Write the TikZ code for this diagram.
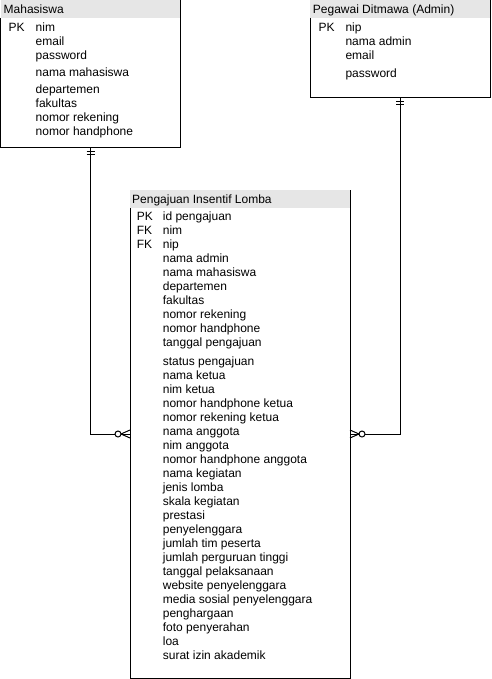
\documentclass[tikz,border=0pt]{standalone}
\usepackage{fontspec}
\setmainfont{Liberation Sans}
\usetikzlibrary{calc}
\definecolor{headgray}{HTML}{E6E6E6}
\tikzset{
	entity/.style={rectangle, anchor=north west, inner sep=0pt, outer sep=0pt},
	headfill/.style={fill=headgray},
	border/.style={draw=black, line width=1pt},
	title/.style={anchor=base west, inner sep=0pt, font=\fontsize{12}{14}\selectfont},
	attrs/.style={anchor=base west, inner sep=0pt, font=\fontsize{12}{#1}\selectfont},
	attrs/.default=14,
	rel/.style={draw=black, line width=1pt}
}

\begin{document}
\begin{tikzpicture}[x=1pt, y=-1pt]
				\useasboundingbox (0,0) rectangle (491,679);
				\fill[white] (0,0) rectangle (491,679);
				% Mahasiswa
				\node[entity, minimum width=180pt, minimum height=148pt] (mhs) at (0.5,0) {};
				\fill[headfill] (mhs.north west) rectangle ($(mhs.north east)+(0,18)$);
				\draw[border] ($(mhs.north west)+(0,18)$) |- (mhs.south east) -- (mhs.north east);
				\node[title] (mhs-title) at ($(mhs.north west)+(3,13.5)$) {Mahasiswa};
				\node[attrs] (mhs-attr) at ($(mhs.north west)+(8,31.5)$) {\begin{tabular}[t]{@{}p{27pt}@{}l@{}}
					PK & nim\\ & email\\ & password\\[3pt] & nama mahasiswa\\[3pt] & departemen\\ & fakultas\\ & nomor rekening\\ & nomor handphone
				\end{tabular}};
				% Pegawai Ditmawa
				\node[entity, minimum width=180pt, minimum height=98pt] (admin) at (310,0) {};
				\fill[headfill] (admin.north west) rectangle ($(admin.north east)+(0,18)$);
				\draw[border] ($(admin.north west)+(0,18)$) |- (admin.south east) -- (admin.north east);
				\node[title] (admin-title) at ($(admin.north west)+(2.7,13.5)$) {Pegawai Ditmawa (Admin)};
				\node[attrs] (admin-attr) at ($(admin.north west)+(8.3,31.5)$) {\begin{tabular}[t]{@{}p{27pt}@{}l@{}}
					PK & nip\\ & nama admin\\ & email\\[4pt] & password
				\end{tabular}};
				% Pengajuan Insentif Lomba
				\node[entity, minimum width=220pt, minimum height=488pt] (pengajuan) at (130,190) {};
				\fill[headfill] (pengajuan.north west) rectangle ($(pengajuan.north east)+(0,18)$);
				\draw[border] ($(pengajuan.north west)+(0,18)$) |- (pengajuan.south east) -- (pengajuan.north east);
				\node[title] (pengajuan-title) at ($(pengajuan.north west)+(2,13)$) {Pengajuan Insentif Lomba};
				\node[attrs] (pengajuan-attr) at ($(pengajuan.north west)+(6.7,30)$) {\begin{tabular}[t]{@{}p{26pt}@{}l@{}}
					PK & id pengajuan\\ FK & nim\\ FK & nip\\ & nama admin\\ & nama mahasiswa\\ & departemen\\ & fakultas\\ & nomor rekening\\ & nomor handphone\\ & tanggal pengajuan\\[5pt]
					& status pengajuan\\ & nama ketua\\ & nim ketua\\ & nomor handphone ketua\\ & nomor rekening ketua\\ & nama anggota\\ & nim anggota\\ & nomor handphone anggota\\ & nama kegiatan\\ & jenis lomba\\ & skala kegiatan\\ & prestasi\\ & penyelenggara\\ & jumlah tim peserta\\ & jumlah perguruan tinggi\\ & tanggal pelaksanaan\\ & website penyelenggara\\ & media sosial penyelenggara\\ & penghargaan\\ & foto penyerahan\\ & loa\\ & surat izin akademik
				\end{tabular}};
				% relations
				\draw[rel] (mhs.south) |- (pengajuan.west);
				\draw[rel] (admin.south) |- (pengajuan.east);
				\draw[rel] ($(mhs.south)+(-4,3.5)$) -- ($(mhs.south)+(4,3.5)$);
				\draw[rel] ($(mhs.south)+(-4,7)$) -- ($(mhs.south)+(4,7)$);
				\draw[rel] ($(admin.south)+(-4,3.5)$) -- ($(admin.south)+(4,3.5)$);
				\draw[rel] ($(admin.south)+(-4,7)$) -- ($(admin.south)+(4,7)$);
				\draw[rel] ($(pengajuan.west)+(0,-4)$) -- ($(pengajuan.west)+(-9,0)$) -- ($(pengajuan.west)+(0,4)$);
				\draw[rel, fill=white] ($(pengajuan.west)+(-12,0)$) circle (3pt);
				\draw[rel] ($(pengajuan.east)+(0,-4)$) -- ($(pengajuan.east)+(9,0)$) -- ($(pengajuan.east)+(0,4)$);
				\draw[rel, fill=white] ($(pengajuan.east)+(12,0)$) circle (3pt);
			\end{tikzpicture}
\end{document}
